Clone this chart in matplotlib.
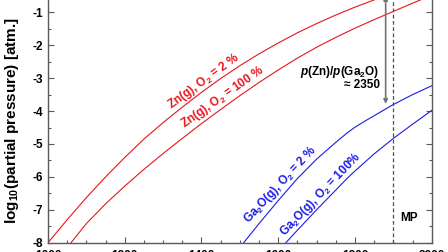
import numpy as np
import matplotlib
matplotlib.use("Agg")
import matplotlib.pyplot as plt
from matplotlib.ticker import MultipleLocator

#%% Data

T_zn_2 = [1000, 1050, 1100, 1150, 1200, 1250, 1300, 1350, 1400, 1450,
          1500, 1550, 1600, 1650, 1700, 1750, 1800, 1850, 1900]
p_zn_2 = [-8.0, -7.3, -6.63, -6.0, -5.41, -4.85, -4.35, -3.88, -3.43, -3.01,
          -2.62, -2.26, -1.93, -1.62, -1.34, -1.08, -0.84, -0.62, -0.42]

T_zn_100 = [1060, 1100, 1150, 1200, 1250, 1300, 1350, 1400, 1450, 1500,
            1550, 1600, 1650, 1700, 1750, 1800, 1850, 1900, 1950, 2000]
p_zn_100 = [-8.0, -7.42, -6.82, -6.28, -5.77, -5.29, -4.83, -4.38, -3.95, -3.53,
            -3.13, -2.75, -2.39, -2.06, -1.76, -1.48, -1.22, -0.97, -0.72, -0.48]

T_ga_2 = [1510, 1550, 1600, 1650, 1700, 1750, 1780, 1800, 1825, 1850, 1900, 1950, 2000]
p_ga_2 = [-8.0, -7.42, -6.72, -6.05, -5.46, -4.95, -4.66, -4.49, -4.31, -4.14, -3.8, -3.5, -3.23]

T_ga_100 = [1620, 1650, 1700, 1750, 1780, 1800, 1825, 1850, 1900, 1950, 2000]
p_ga_100 = [-8.0, -7.62, -7.0, -6.4, -6.04, -5.82, -5.56, -5.3, -4.83, -4.4, -3.98]

T_mp = 1898
T_arrow = 1880
arrow_top, arrow_bottom = -0.5, -3.78

xticks = [1000, 1200, 1400, 1600, 1800, 2000]
yticks = [-8, -7, -6, -5, -4, -3, -2, -1, 0]

#%% Style

plt.rcParams['font.family'] = ['Liberation Sans', 'DejaVu Sans']
plt.rcParams['font.weight'] = 'bold'
plt.rcParams['mathtext.fontset'] = 'custom'
plt.rcParams['mathtext.rm'] = 'Liberation Sans:bold'
plt.rcParams['mathtext.it'] = 'Liberation Sans:italic:bold'
plt.rcParams['mathtext.bf'] = 'Liberation Sans:bold'
plt.rcParams['mathtext.default'] = 'rm'
plt.rcParams['axes.unicode_minus'] = False

red = '#e8161b'
blue = '#1c1ce6'
fs = 8.5

#%% Plot

fig = plt.figure(figsize=(4.48, 2.52), dpi=100)
# axes run past the top and bottom of the picture (cropped figure)
ax = fig.add_axes([48/448, 9.3/252, 383.7/448, 8*32.9/252])

ax.plot(T_zn_2, p_zn_2, color=red, lw=0.8)
ax.plot(T_zn_100, p_zn_100, color=red, lw=0.8)
ax.plot(T_ga_2, p_ga_2, color=blue, lw=0.8)
ax.plot(T_ga_100, p_ga_100, color=blue, lw=0.8)

ax.axvline(T_mp, color='0.3', lw=0.9, ls=(0, (3, 2)))
ax.annotate('', xy=(T_arrow, arrow_bottom), xytext=(T_arrow, arrow_top),
            arrowprops=dict(arrowstyle='<|-|>', color='0.45', lw=1.2,
                            mutation_scale=6, shrinkA=0, shrinkB=0))

ax.text(1407, -3.1, 'Zn(g), O$_2$ = 2 %', color=red, fontsize=fs,
        rotation=36, ha='center', va='center')
ax.text(1455, -3.58, 'Zn(g), O$_2$ = 100 %', color=red, fontsize=fs,
        rotation=35, ha='center', va='center')
ax.text(1607, -6.25, 'Ga$_2$O(g), O$_2$ = 2 %', color=blue, fontsize=fs,
        rotation=47, ha='center', va='center')
ax.text(1711, -6.53, 'Ga$_2$O(g), O$_2$ = 100%', color=blue, fontsize=fs,
        rotation=46, ha='center', va='center')

ax.text(1864, -2.82, r'$\mathit{p}$(Zn)/$\mathit{p}$(Ga$_2$O)', fontsize=fs,
        ha='right', va='center')
ax.text(1864, -3.2, '\u2248 2350', fontsize=fs, ha='right', va='center')
ax.text(1940, -7.24, 'MP', fontsize=fs, ha='center', va='center')

ax.set_xlim(1000, 2000)
ax.set_ylim(-8, 0)
ax.set_xticks(xticks)
ax.set_yticks(yticks)
ax.xaxis.set_minor_locator(MultipleLocator(50))
ax.yaxis.set_minor_locator(MultipleLocator(0.5))
ax.tick_params(which='both', direction='in', right=True, top=True,
               labelsize=fs, color='0.35')
ax.tick_params(which='major', length=4, width=0.8)
ax.tick_params(which='minor', length=2, width=0.8)
ax.tick_params(axis='x', pad=5)
for lab in ax.get_xticklabels() + ax.get_yticklabels():
    lab.set_fontweight('bold')
for s in ax.spines.values():
    s.set_color('0.35')
    s.set_linewidth(1.0)

ax.set_ylabel('log$_{10}$(partial pressure) [atm.]', fontsize=11,
              fontweight='bold', va='center')
ax.yaxis.set_label_coords(-0.095, 0.462)

fig.savefig('out.png', dpi=100)
